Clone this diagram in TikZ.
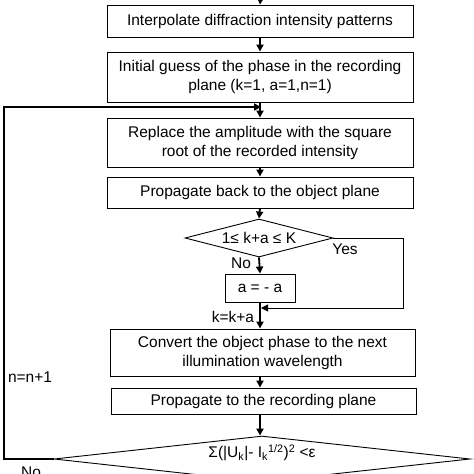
\documentclass[tikz,border=0pt]{standalone}
\usepackage{fontspec}
\setmainfont{Liberation Sans}
\usetikzlibrary{shapes.geometric,arrows.meta}
\tikzset{
  box/.style={draw, line width=0.9pt, rectangle, inner sep=0pt, align=center},
  dia/.style={draw, line width=0.9pt, diamond, inner sep=0pt},
  flow/.style={line width=1.8pt, -{Triangle[length=7pt,width=7pt]}},
  thinflow/.style={line width=1pt, -{Triangle[length=7pt,width=7pt]}},
  fbline/.style={line width=2.2pt, -{Triangle[length=7pt,width=7pt]}},
  lbl/.style={inner sep=0pt}
}
\begin{document}
\begin{tikzpicture}[x=1pt,y=-1pt,font=\fontsize{15.5}{19}\selectfont]
\useasboundingbox (0,0) rectangle (474,474);
\clip (0,0) rectangle (474,474);
\coordinate (top) at (261,-10);
\node[box, minimum width=306pt, minimum height=32pt] (b1) at (260,21) {Interpolate diffraction intensity patterns};
\node[box, minimum width=306pt, minimum height=50pt] (b2) at (260,77) {Initial guess of the phase in the recording\\plane (k=1, a=1,n=1)};
\node[box, minimum width=306pt, minimum height=49pt] (b3) at (260,142.5) {Replace the amplitude with the square\\root of the recorded intensity};
\node[box, minimum width=306pt, minimum height=31pt] (b4) at (260,192.5) {Propagate back to the object plane};
\node[dia, minimum width=148pt, minimum height=38pt] (d1) at (259,238) {};
\node[lbl] at (d1) {1≤ k+a ≤ K};
\node[box, minimum width=70pt, minimum height=28pt] (ba) at (260,288) {a = - a};
\node[box, minimum width=305pt, minimum height=47pt] (b5) at (262.5,352.5) {Convert the object phase to the next\\illumination wavelength};
\node[box, minimum width=305pt, minimum height=26pt] (b6) at (263.5,401) {Propagate to the recording plane};
\node[dia, minimum width=416pt, minimum height=46pt] (d2) at (262,459) {};
\node[lbl] at (262,453) {Σ(|U\textsubscript{k}|- I\textsubscript{k}\textsuperscript{1/2})\textsuperscript{2} <ε};
\coordinate (m) at (261,308);
\coordinate (yr) at (403,308);
\coordinate (fb) at (261,107);
\coordinate (fl) at (4,459);
% main arrows
\draw[flow] (top) -- (b1.north);
\draw[flow] (b1.south) -- (b2.north);
\draw[flow] (b2.south) -- (b3.north);
\draw[flow] (b3.south) -- (b4.north);
\draw[flow] (b4.south) -- (d1.north);
\draw[flow] (d1.south) -- (ba.north);
\draw[flow] (ba.south) -- (b5.north -| ba.south);
\draw[flow] (b5.south -| ba.south) -- (b6.north -| ba.south);
\draw[flow] (b6.south -| ba.south) -- (d2.north -| ba.south);
% yes loop
\draw[thinflow] (d1.east) -| (yr) -- (m);
% feedback
\draw[fbline] (d2.west) -- (fl) |- (fb);
% labels
\node[lbl] at (345,249) {Yes};
\node[lbl] at (241,263) {No};
\node[lbl] at (233,317) {k=k+a};
\node[lbl] at (30,377) {n=n+1};
\node[lbl] at (31,472) {No};
\end{tikzpicture}
\end{document}
